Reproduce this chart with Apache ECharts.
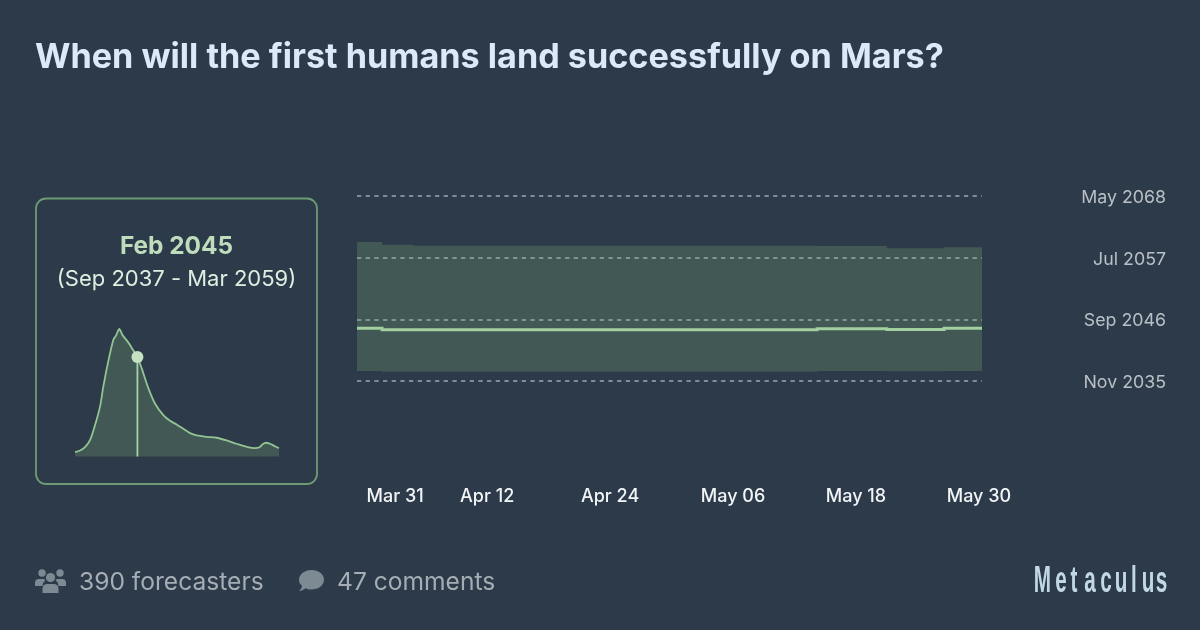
<!DOCTYPE html>
<html>
<head>
<meta charset="utf-8">
<style>html,body{margin:0;padding:0;background:#2c3a49}#c{width:1200px;height:630px}</style>
<script src="https://cdn.jsdelivr.net/npm/echarts@6/dist/echarts.min.js"></script>
</head>
<body>
<div id="c"></div>
<script>
// Time series (x: days after Mar 31; y: months after Nov 2035)
const days    = [-0.7, 1.75, 4.8, 44.2, 51, 56.6, 60.3];
const upper   = [293, 287, 285, 284.5, 280, 282, 282];
const median  = [111, 108, 108, 110, 108.5, 111, 111];
const lower   = [21, 19.6, 19.6, 21, 20.5, 21, 21];
const xTickDays   = [0, 12, 24, 36, 48, 60];
const xTickLabels = ['Mar 31', 'Apr 12', 'Apr 24', 'May 06', 'May 18', 'May 30'];
const yTickLabels = ['Nov 2035', 'Sep 2046', 'Jul 2057', 'May 2068'];

// Density curve (x: percent of range; y: percent of peak)
const densityX = [0, 2.5, 4.9, 7.4, 9.8, 12.3, 13.9, 16.3, 18.8, 20.1, 21.7, 23.4, 26.1, 28.6, 30.6, 32.7, 36, 39.2, 43.3, 46.6, 49.8, 53.1, 56.4, 59.6, 64.5, 69.4, 74.3, 79.2, 84.2, 88.2, 90.4, 92, 93.6, 95.6, 98, 100];
const densityY = [3.4, 4.7, 7.3, 13, 24.5, 39.3, 55, 74.6, 91.6, 94.8, 100, 95, 89.5, 83.2, 78, 69.1, 53.4, 41.6, 32.5, 28, 25.1, 21.7, 18.3, 16.5, 15.4, 14.7, 12.6, 10, 7.6, 6.6, 7.3, 9.7, 10.8, 10, 8, 6.5];
const medianDensityX = 30.6;
const medianDensityY = 78;

const titleText = 'When will the first humans land successfully on Mars?';
const medianLabel = 'Feb 2045';
const rangeLabel = '(Sep 2037 - Mar 2059)';
const forecastersLabel = '390 forecasters';
const commentsLabel = '47 comments';
const brandLetters = ['M','e','t','a','c','u','l','u','s'];

const FONT = 'Inter';
const ICON = '#7d8993';

echarts.graphic.registerShape('peopleBodies', echarts.graphic.extendPath('M35 586 v-3 q0 -4 4 -4 h4 q1.500 0 2.500 1 q-2.500 2 -3 6 z M66 586 v-3 q0 -4 -4 -4 h-4 q-1.500 0 -2.500 1 q2.500 2 3 6 z M42.500 593 v-4 q0 -5 5 -5 h6 q5 0 5 5 v4 z', {}));
echarts.graphic.registerShape('commentBubble', echarts.graphic.extendPath('M311.500 570 c7 0 12.500 4.300 12.500 9.800 s-5.500 9.800 -12.500 9.800 c-2.300 0 -4.300 -0.500 -6 -1.300 c-1.500 1.500 -3.800 2.500 -6.300 2.700 c1.500 -1.500 2.600 -3.500 2.800 -5.300 c-2.400 -1.800 -3 -3.600 -3 -5.900 c0 -5.500 5.500 -9.800 12.500 -9.800 z', {}));

const chart = echarts.init(document.getElementById('c'), null, {renderer: 'canvas'});

const pair = (xs, ys) => xs.map((x, i) => [x, ys[i]]);

const brandX = [1042.5, 1061, 1074, 1090, 1106, 1121, 1134, 1148, 1161.5];
const brand = brandLetters.map((ch, i) => ({
  type: 'text', x: brandX[i], y: 581.5,
  style: {text: ch, font: '700 37px "Liberation Sans Narrow", "Liberation Sans"', fill: '#c2d8e6', align: 'center', verticalAlign: 'middle'},
  scaleX: 0.56
}));

// Step-shaped band between lower and upper, placed through the axis scales.
function renderBand(params, api) {
  if (params.dataIndex !== 0) return;
  const pts = [];
  const n = days.length;
  for (let i = 0; i < n - 1; i++) {
    pts.push(api.coord([days[i], upper[i]]), api.coord([days[i + 1], upper[i]]));
  }
  for (let i = n - 2; i >= 0; i--) {
    pts.push(api.coord([days[i + 1], lower[i]]), api.coord([days[i], lower[i]]));
  }
  return {type: 'polygon', shape: {points: pts}, style: {fill: 'rgba(130,180,125,0.25)'}};
}

// Step-shaped median line, placed through the axis scales.
function renderMedian(params, api) {
  if (params.dataIndex !== 0) return;
  const pts = [];
  for (let i = 0; i < days.length - 1; i++) {
    pts.push(api.coord([days[i], median[i]]), api.coord([days[i + 1], median[i]]));
  }
  return {type: 'polyline', shape: {points: pts}, style: {fill: 'none', stroke: '#a1cf9f', lineWidth: 3}};
}

chart.setOption({
  animation: false,
  backgroundColor: '#2c3a49',
  title: [
    {text: titleText, left: 35, top: 37.5, padding: 0, textStyle: {color: '#dbe9f9', fontFamily: FONT, fontWeight: 700, fontSize: 34.2, lineHeight: 40}},
    {text: medianLabel, left: 176.5, textAlign: 'center', top: 234, padding: 0, textStyle: {color: '#bfdcbd', fontFamily: FONT, fontWeight: 700, fontSize: 24.4, lineHeight: 26}},
    {text: rangeLabel, left: 176.5, textAlign: 'center', top: 267.5, padding: 0, textStyle: {color: '#dcefe0', fontFamily: FONT, fontWeight: 400, fontSize: 22, lineHeight: 24}}
  ],
  grid: [
    {left: 357, width: 625, top: 196, height: 185, containLabel: false},
    {left: 75, width: 204, top: 329, height: 127.5, containLabel: false}
  ],
  xAxis: [
    {
      type: 'value', gridIndex: 0, min: -0.7, max: 60.3,
      axisLine: {show: false}, axisTick: {show: false}, splitLine: {show: false},
      axisLabel: {
        customValues: xTickDays, margin: 107, hideOverlap: false,
        color: '#f2f5f8', fontFamily: FONT, fontSize: 18, fontWeight: 500,
        formatter: v => {
          const i = xTickDays.indexOf(v);
          return i === 0 ? '{first|' + xTickLabels[i] + '}' : xTickLabels[i];
        },
        rich: {first: {padding: [0, 0, 0, 62], color: '#f2f5f8', fontFamily: FONT, fontSize: 18, fontWeight: 500}}
      }
    },
    {type: 'value', gridIndex: 1, min: 0, max: 100, show: false}
  ],
  yAxis: [
    {
      type: 'value', gridIndex: 0, position: 'right', min: 0, max: 390, interval: 130,
      axisLine: {show: false}, axisTick: {show: false},
      splitLine: {show: true, lineStyle: {color: '#9ca7af', width: 1.5, type: [4.3, 4.37]}},
      axisLabel: {
        margin: 184, align: 'right', color: '#b9c0c6', fontFamily: FONT, fontSize: 17.8,
        formatter: v => '{tick|' + yTickLabels[v / 130] + '}',
        rich: {tick: {padding: [3, 0, 0, 0], color: '#b9c0c6', fontFamily: FONT, fontSize: 17.8}}
      }
    },
    {type: 'value', gridIndex: 1, min: 0, max: 100, show: false}
  ],
  series: [
    {type: 'custom', name: 'band', xAxisIndex: 0, yAxisIndex: 0, renderItem: renderBand, encode: {x: 0, y: [1, 2]},
      data: days.map((d, i) => [d, lower[i], upper[i]]), z: 3, silent: true},
    {type: 'custom', name: 'median', xAxisIndex: 0, yAxisIndex: 0, renderItem: renderMedian, encode: {x: 0, y: 1},
      data: pair(days, median), z: 4, silent: true},
    {type: 'line', name: 'density', xAxisIndex: 1, yAxisIndex: 1, smooth: 0.25, symbol: 'none', lineStyle: {color: '#93c494', width: 1.8}, areaStyle: {color: 'rgba(130,180,125,0.25)', opacity: 1}, data: pair(densityX, densityY), z: 3},
    {type: 'line', name: 'medianMarker', xAxisIndex: 1, yAxisIndex: 1, symbol: 'none', lineStyle: {color: '#a8d3a6', width: 1.8},
      data: [[medianDensityX, 0], {value: [medianDensityX, medianDensityY], symbol: 'circle', symbolSize: 12, itemStyle: {color: '#c5e2c2'}}],
      showSymbol: true, z: 5}
  ],
  graphic: [
    {type: 'rect', shape: {x: 36, y: 198.5, width: 281, height: 285.5, r: 10}, style: {fill: 'none', stroke: '#6d9c74', lineWidth: 1.8}, z: 1},
    {type: 'text', x: 79, y: 583, style: {text: forecastersLabel, font: '400 24.6px Inter', fill: '#a6adb4', verticalAlign: 'middle'}},
    {type: 'text', x: 337, y: 583, style: {text: commentsLabel, font: '400 24.6px Inter', fill: '#a6adb4', verticalAlign: 'middle'}},
    {type: 'circle', shape: {cx: 42, cy: 573, r: 3.7}, style: {fill: ICON}},
    {type: 'circle', shape: {cx: 60, cy: 573, r: 3.7}, style: {fill: ICON}},
    {type: 'circle', shape: {cx: 50.5, cy: 577.5, r: 4.6}, style: {fill: ICON}},
    {type: 'peopleBodies', style: {fill: ICON}},
    {type: 'commentBubble', style: {fill: ICON}},
    ...brand
  ]
});
</script>
</body>
</html>
